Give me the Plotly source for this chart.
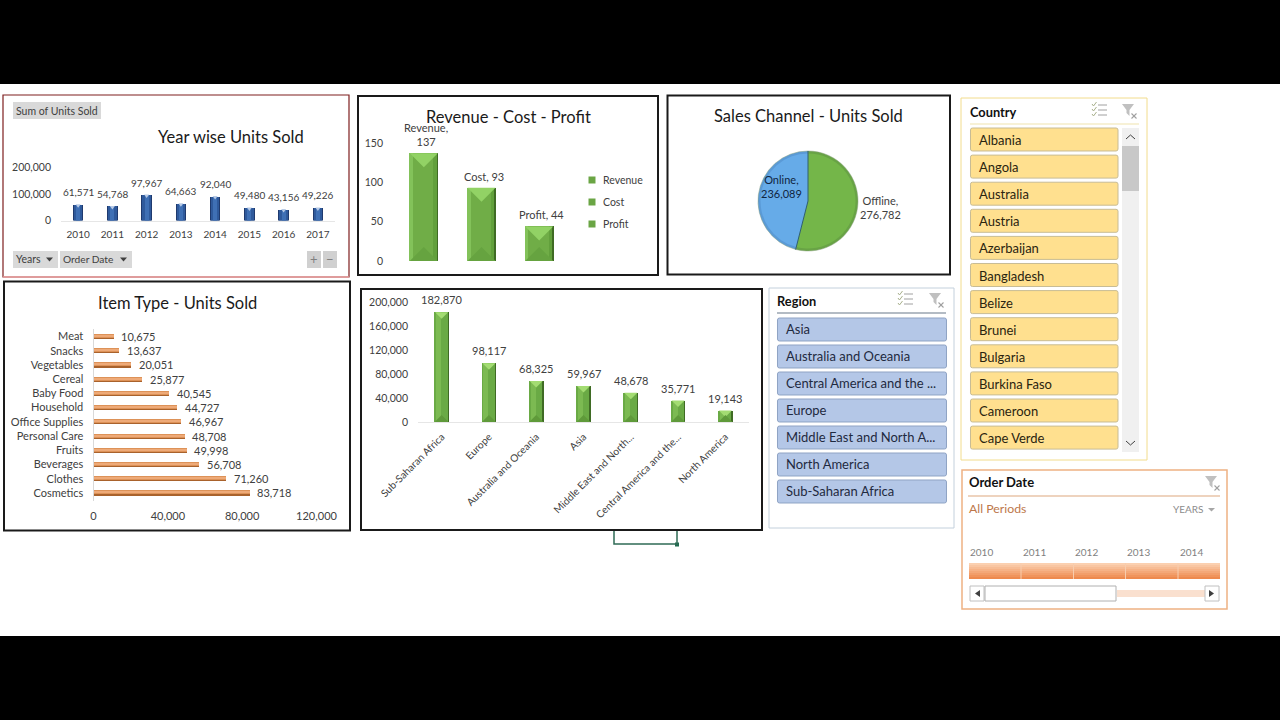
import math
import plotly.graph_objects as go

# Dashboard data
years = ["2010", "2011", "2012", "2013", "2014", "2015", "2016", "2017"]
year_units = [61571, 54768, 97967, 64663, 92040, 49480, 43156, 49226]

finance_names = ["Revenue", "Cost", "Profit"]
finance_values = [137, 93, 44]

channels = ["Offline", "Online"]
channel_units = [276782, 236089]

item_types = ["Meat", "Snacks", "Vegetables", "Cereal", "Baby Food", "Household",
              "Office Supplies", "Personal Care", "Fruits", "Beverages", "Clothes", "Cosmetics"]
item_units = [10675, 13637, 20051, 25877, 40545, 44727, 46967, 48708, 49998, 56708, 71260, 83718]

regions_sorted = ["Sub-Saharan Africa", "Europe", "Australia and Oceania", "Asia",
                  "Middle East and North...", "Central America and the...", "North America"]
region_units = [182870, 98117, 68325, 59967, 48678, 35771, 19143]

region_slicer = ["Asia", "Australia and Oceania", "Central America and the ...", "Europe",
                 "Middle East and North A...", "North America", "Sub-Saharan Africa"]
country_slicer = ["Albania", "Angola", "Australia", "Austria", "Azerbaijan", "Bangladesh",
                  "Belize", "Brunei", "Bulgaria", "Burkina Faso", "Cameroon", "Cape Verde"]
timeline_years = ["2010", "2011", "2012", "2013", "2014"]

FONT = "Lato"
TXT = "#404040"
TITLE_SIZE = 16.5
W, H = 1280, 720


def X(p):
    return p / W


def Y(p):
    return 1 - p / H


shapes = []
annotations = []
layout_axes = {}
fig = go.Figure()


def rect(x0, y0, x1, y1, fill="rgba(0,0,0,0)", line=None, lw=1, layer="below"):
    shapes.append(dict(type="rect", xref="paper", yref="paper", x0=X(x0), x1=X(x1), y0=Y(y0), y1=Y(y1),
                       fillcolor=fill, line=dict(color=line or "rgba(0,0,0,0)", width=lw if line else 0),
                       layer=layer))


def seg(x0, y0, x1, y1, color, lw=1):
    shapes.append(dict(type="line", xref="paper", yref="paper", x0=X(x0), x1=X(x1), y0=Y(y0), y1=Y(y1),
                       line=dict(color=color, width=lw)))


def poly(points, fill=None, line=None, lw=1):
    d = "M" + " L".join(f"{X(a):.5f},{Y(b):.5f}" for a, b in points)
    if fill:
        d += " Z"
    shapes.append(dict(type="path", xref="paper", yref="paper", path=d,
                       fillcolor=fill or "rgba(0,0,0,0)",
                       line=dict(color=line or "rgba(0,0,0,0)", width=lw if line else 0)))


def rounded(x0, y0, x1, y1, r, fill, line, lw=1):
    a, b, c, d = X(x0), Y(y0), X(x1), Y(y1)
    rx, ry = r / W, r / H
    path = (f"M{a+rx:.5f},{b:.5f} L{c-rx:.5f},{b:.5f} Q{c:.5f},{b:.5f} {c:.5f},{b-ry:.5f} "
            f"L{c:.5f},{d+ry:.5f} Q{c:.5f},{d:.5f} {c-rx:.5f},{d:.5f} L{a+rx:.5f},{d:.5f} "
            f"Q{a:.5f},{d:.5f} {a:.5f},{d+ry:.5f} L{a:.5f},{b-ry:.5f} Q{a:.5f},{b:.5f} {a+rx:.5f},{b:.5f} Z")
    shapes.append(dict(type="path", xref="paper", yref="paper", path=path, fillcolor=fill,
                       line=dict(color=line, width=lw), layer="below"))


def label(px, py, text, size=11, color=TXT, anchor="left", bold=False, family=FONT):
    if bold:
        text = f"<b>{text}</b>"
    annotations.append(dict(xref="paper", yref="paper", x=X(px), y=Y(py), text=text, showarrow=False,
                            xanchor=anchor, yanchor="middle", align=anchor,
                            font=dict(family=family, size=size, color=color),
                            borderpad=0, borderwidth=0))


def value_label(xa, ya, x, y, text, yshift=0, xshift=0, xanchor="center", yanchor="bottom", size=11):
    annotations.append(dict(xref=xa, yref=ya, x=x, y=y, text=text, showarrow=False, xshift=xshift,
                            yshift=yshift, xanchor=xanchor, yanchor=yanchor,
                            font=dict(family=FONT, size=size, color=TXT), borderpad=0))


def setup_axes(i, x0, x1, ytop, ybot, xkw, ykw, tick_size=10.5):
    base = dict(showgrid=False, zeroline=False, ticks="", fixedrange=True,
                tickfont=dict(family=FONT, size=tick_size, color=TXT))
    layout_axes[f"xaxis{i}"] = dict(base, domain=[X(x0), X(x1)], anchor=f"y{i}", **xkw)
    layout_axes[f"yaxis{i}"] = dict(base, domain=[Y(ybot), Y(ytop)], anchor=f"x{i}", **ykw)


def column_layers(i, cats, vals, width, layers):
    # Stacks narrower bars over each other to give the columns their bevelled faces
    for start, frac, color in layers:
        fig.add_bar(x=cats, y=vals, xaxis=f"x{i}", yaxis=f"y{i}", width=width * frac,
                    offset=width * (start - 0.5), marker=dict(color=color, line=dict(width=0)),
                    showlegend=False, hoverinfo="x+y")


def column_caps(i, cats, vals, half, cap_h, fill):
    for c, v in zip(cats, vals):
        shapes.append(dict(type="path", xref=f"x{i}", yref=f"y{i}", xsizemode="pixel", ysizemode="pixel",
                           xanchor=c, yanchor=v, fillcolor=fill, line=dict(width=0),
                           path=f"M{-half},0 L{half},0 L0,{-cap_h} Z"))


def column_feet(i, cats, half, foot_h, fill):
    for c in cats:
        shapes.append(dict(type="path", xref=f"x{i}", yref=f"y{i}", xsizemode="pixel", ysizemode="pixel",
                           xanchor=c, yanchor=0, fillcolor=fill, line=dict(width=0),
                           path=f"M{-half},0 L{half},0 L0,{foot_h} Z"))


# Black bands above and below the sheet
rect(0, 0, W, 84, fill="#000000")
rect(0, 636, W, H, fill="#000000")

# Chart frames
rect(3, 95, 349, 277, fill="#ffffff", line="#7e1f1f", lw=1.2)
seg(3, 277, 349, 277, "#eaa0a0", 1.5)
rect(358, 96, 658, 275, fill="#ffffff", line="#1a1a1a", lw=2)
rect(667.5, 95.5, 950, 274.5, fill="#ffffff", line="#1a1a1a", lw=2)
rect(4, 281.5, 350, 530.5, fill="#ffffff", line="#1a1a1a", lw=2)
rect(361, 289, 762, 530, fill="#ffffff", line="#1a1a1a", lw=2)

# Cell selection peeking out below the region chart
poly([(614, 531), (614, 544), (677, 544), (677, 531)], line="#2f6b55", lw=1.5)
rect(675, 542.5, 679, 546.5, fill="#1f6b4f")

# Year wise Units Sold: positions are indices because the year labels look numeric
year_pos = list(range(len(years)))
setup_axes(1, 61, 335, 167.5, 220.5,
           dict(range=[-0.5, len(years) - 0.5], tickvals=year_pos, ticktext=years, showline=True,
                linecolor="#e6e6e6", linewidth=1, ticklabelstandoff=4, tickfont=dict(family=FONT, size=10, color=TXT)),
           dict(range=[0, 200000], tickvals=[0, 100000, 200000], tickformat=",", ticklabelstandoff=9))
column_layers(1, year_pos, year_units, 0.3, [(0, 1, "#1f3a6e"), (0.08, 0.84, "#2f5a9c"), (0.3, 0.4, "#3f70b5")])
column_caps(1, year_pos, year_units, 2.5, 3.5, "#b9cbe6")
for k, v in zip(year_pos, year_units):
    value_label("x1", "y1", k, v, f"{v:,}", yshift=5, size=10)
label(231, 136.5, "Year wise Units Sold", size=TITLE_SIZE, color="#1a1a1a", anchor="center")
rect(13, 102, 101, 119, fill="#d9d9d9")
label(57, 110.5, "Sum of Units Sold", size=10.5, anchor="center")
rect(13, 251, 58, 268, fill="#d9d9d9")
label(16, 259.5, "Years", size=10.5)
poly([(46, 257.5), (53, 257.5), (49.5, 261.5)], fill="#404040")
rect(60, 251, 132, 268, fill="#d9d9d9")
label(63, 259.5, "Order Date", size=10.2)
poly([(120, 257.5), (127, 257.5), (123.5, 261.5)], fill="#404040")
rect(307, 251, 321, 268, fill="#d0d0d0")
rect(323, 251, 337, 268, fill="#d0d0d0")
label(314, 259, "+", size=13, color="#808080", anchor="center")
label(330, 259, "−", size=13, color="#808080", anchor="center")

# Revenue - Cost - Profit
setup_axes(2, 395, 568, 143, 261,
           dict(type="category", categoryorder="array", categoryarray=finance_names, showticklabels=False),
           dict(range=[0, 150], tickvals=[0, 50, 100, 150], ticklabelstandoff=11))
column_layers(2, finance_names, finance_values, 0.5,
              [(0, 1, "#3f6b24"), (0, 0.95, "#70ad47"), (0, 0.12, "#83c25a"), (0.83, 0.12, "#62a03c")])
column_caps(2, finance_names, finance_values, 14, 14, "#92d265")
column_feet(2, finance_names, 14, 14, "#66a340")
for name, v in zip(finance_names, finance_values):
    text = f"{name},<br>{v}" if name == "Revenue" else f"{name}, {v}"
    value_label("x2", "y2", name, v, text, yshift=4, xshift=2)
label(508, 117, "Revenue - Cost - Profit", size=TITLE_SIZE, color="#1a1a1a", anchor="center")
for py, name in zip([180, 202, 224], finance_names):
    rect(588.5, py - 3.5, 595.5, py + 3.5, fill="#6aa544")
    label(603, py, name, size=10.5)

# Sales Channel - Units Sold: a darker rim behind a lighter face
pie_cx, pie_cy = 808, 201
for radius, colors, edge in ((50, ["#68a345", "#5a9ad6"], 0.5), (47.5, ["#74b649", "#66abe8"], 0)):
    fig.add_pie(labels=channels, values=channel_units, sort=False, direction="clockwise", rotation=0,
                textinfo="none", showlegend=False,
                domain=dict(x=[X(pie_cx - radius), X(pie_cx + radius)], y=[Y(pie_cy + radius), Y(pie_cy - radius)]),
                marker=dict(colors=colors, line=dict(color="#8aa080", width=edge)))
split = 2 * math.pi * channel_units[0] / sum(channel_units)
poly([(pie_cx, pie_cy - 50), (pie_cx, pie_cy),
      (pie_cx + 50 * math.sin(split), pie_cy - 50 * math.cos(split))], line="#2f6070", lw=1)
label(808.5, 116, "Sales Channel - Units Sold", size=TITLE_SIZE, color="#1a1a1a", anchor="center")
label(781.5, 186.5, f"{channels[1]},<br>{channel_units[1]:,}", size=11, color="#10253f", anchor="center")
label(880.5, 208, f"{channels[0]},<br>{channel_units[0]:,}", size=11, anchor="center")

# Item Type - Units Sold
setup_axes(3, 93.5, 316.5, 329, 500.5,
           dict(range=[0, 120000], tickvals=[0, 40000, 80000, 120000], tickformat=",", ticklabelstandoff=7,
                tickfont=dict(family=FONT, size=11, color=TXT)),
           dict(type="category", categoryorder="array", categoryarray=item_types[::-1], showline=True,
                linecolor="#d9d9d9", ticklabelstandoff=7, tickfont=dict(family=FONT, size=11, color=TXT)))
for start, frac, color in [(0, 1, "#a9622c"), (0.22, 0.78, "#dd9258"), (0.5, 0.3, "#eeaa78")]:
    fig.add_bar(y=item_types, x=item_units, orientation="h", xaxis="x3", yaxis="y3", width=0.36 * frac,
                offset=0.36 * (start - 0.5), marker=dict(color=color, line=dict(width=0)), showlegend=False)
for name, v in zip(item_types, item_units):
    value_label("x3", "y3", v, name, f"{v:,}", xshift=7, xanchor="left", yanchor="middle")
label(177, 303, "Item Type - Units Sold", size=TITLE_SIZE, color="#1a1a1a", anchor="center")

# Region units
setup_axes(4, 418, 749, 302, 422,
           dict(type="category", categoryorder="array", categoryarray=regions_sorted, tickangle=-45,
                showline=True, linecolor="#e6e6e6", ticklabelstandoff=4, tickfont=dict(family=FONT, size=10.2, color=TXT)),
           dict(range=[0, 200000], tickvals=[0, 40000, 80000, 120000, 160000, 200000], tickformat=",",
                ticklabelstandoff=9))
column_layers(4, regions_sorted, region_units, 0.31,
              [(0, 1, "#3f6b24"), (0, 0.9, "#6aaa45"), (0.12, 0.35, "#7cba52")])
column_caps(4, regions_sorted, region_units, 6.5, 6.5, "#a3dc72")
column_feet(4, regions_sorted, 7, 7, "#5f9a3a")
for name, v in zip(regions_sorted, region_units):
    value_label("x4", "y4", name, v, f"{v:,}", yshift=5)


def multi_select_icon(x, y):
    for k in range(3):
        yy = y + k * 5
        seg(x + 6, yy, x + 15, yy, "#a0a0a0", 1)
        poly([(x, yy - 1), (x + 1.5, yy + 1), (x + 4.5, yy - 3)], line="#a8b08c", lw=1)


def clear_filter_icon(x, y):
    poly([(x, y), (x + 12, y), (x + 7.5, y + 6), (x + 7.5, y + 12), (x + 4.5, y + 9), (x + 4.5, y + 6)], fill="#c0c0c0")
    seg(x + 9.5, y + 9.5, x + 14.5, y + 14.5, "#a0a0a0", 1.1)
    seg(x + 14.5, y + 9.5, x + 9.5, y + 14.5, "#a0a0a0", 1.1)


# Region slicer
rect(769, 288, 954, 528, fill="#ffffff", line="#c3d0dc")
label(777, 300.5, "Region", size=12.8, color="#111111", bold=True)
seg(777, 313, 946, 313, "#9aa5b1", 1.5)
multi_select_icon(898, 294)
clear_filter_icon(929, 293)
for k, name in enumerate(region_slicer):
    top = 318 + k * 27
    rounded(777.5, top, 946.5, top + 23, 2, "#b4c7e7", "#8fa3c4")
    label(786, top + 11, name, size=13, color="#1f2a40")

# Country slicer
rect(961, 98, 1147, 460, fill="#ffffff", line="#f2dc8c")
label(970, 111.5, "Country", size=12.8, color="#111111", bold=True)
seg(970, 124, 1139, 124, "#f4ecc8", 1.5)
multi_select_icon(1092, 105)
clear_filter_icon(1122, 104)
rect(1122, 128, 1139, 452, fill="#f0f0f0")
rect(1122, 146, 1139, 191, fill="#c8c8c8")
poly([(1126, 139), (1130.5, 135), (1135, 139)], line="#404040", lw=1)
poly([(1126, 441), (1130.5, 445), (1135, 441)], line="#404040", lw=1)
for k, name in enumerate(country_slicer):
    top = 128 + k * 27.1
    rounded(970.5, top, 1118, top + 23, 2, "#ffe08f", "#c8bc94")
    label(979, top + 12, name, size=13, color="#2a2410")

# Order Date timeline
rect(962, 470, 1227, 609, fill="#ffffff", line="#eeb183", lw=1.5)
label(969, 482, "Order Date", size=13, color="#111111", bold=True)
seg(968, 496, 1220, 496, "#e8c4a8", 1.5)
clear_filter_icon(1205, 476)
label(969, 508.5, "All Periods", size=12.3, color="#bd774a")
label(1188, 509, "YEARS", size=10, color="#8c8c8c", anchor="center")
poly([(1208, 508), (1215, 508), (1211.5, 511.5)], fill="#a6a6a6")
for px, yr in zip([981, 1034, 1086, 1138, 1191], timeline_years):
    label(px, 552, yr, size=10, color="#7f7f7f", anchor="center")
bands = ["#fbd0b0", "#f9c6a2", "#f7bc94", "#f6b286", "#f4a878", "#f29e6a", "#f0945c", "#ee8a4e"]
for k, col in enumerate(bands):
    rect(969, 563 + k * 2, 1220, 565 + k * 2, fill=col)
for px in [1021, 1073.5, 1125.5, 1178]:
    seg(px, 563, px, 579, "#f7cdae", 1)
rect(1117, 590, 1205, 597, fill="#fae0cf")
rect(970, 586, 984, 601, fill="#ffffff", line="#c0c0c0")
rect(985, 586, 1116, 601, fill="#ffffff", line="#b0b0b0")
rect(1205, 586, 1219, 601, fill="#ffffff", line="#c0c0c0")
poly([(980, 590), (980, 597), (975, 593.5)], fill="#404040")
poly([(1209, 590), (1209, 597), (1214, 593.5)], fill="#404040")

fig.update_layout(width=W, height=H, margin=dict(l=0, r=0, t=0, b=0, autoexpand=False), paper_bgcolor="#ffffff",
                  plot_bgcolor="rgba(0,0,0,0)", barmode="overlay", bargap=0, showlegend=False,
                  font=dict(family=FONT, color=TXT), shapes=shapes, annotations=annotations, **layout_axes)

fig.write_html("out.html")
